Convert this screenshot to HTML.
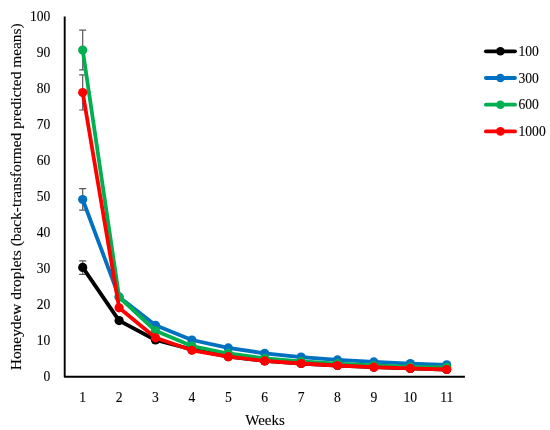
<!DOCTYPE html>
<html><head><meta charset="utf-8"><title>Honeydew droplets</title>
<style>
html,body{margin:0;padding:0;background:#fff;}
body{width:550px;height:430px;overflow:hidden;}
svg{display:block;}
text{font-family:"Liberation Serif",serif;font-size:13.6px;fill:#000;stroke:#000;stroke-width:0.1px;}
</style></head><body>
<svg width="550" height="430" viewBox="0 0 550 430">
<rect width="550" height="430" fill="#fff"/>
<g stroke="#595959" stroke-width="1.2" fill="none">
<path d="M82.7 260.9V274.4M79.2 260.9H86.2M79.2 274.4H86.2"/>
<path d="M82.7 188.6V210.1M79.2 188.6H86.2M79.2 210.1H86.2"/>
<path d="M82.7 30.1V69.8M79.2 30.1H86.2M79.2 69.8H86.2"/>
<path d="M82.7 74.9V110.0M79.2 74.9H86.2M79.2 110.0H86.2"/>
</g>
<g fill="#000000" stroke="none"><polyline points="82.7,267.4 119.1,320.6 155.5,340.0 191.9,349.3 228.3,356.7 264.7,360.9 301.1,363.5 337.5,365.5 373.9,367.2 410.3,368.4 446.7,369.5" fill="none" stroke="#000000" stroke-width="3.8" stroke-linejoin="round" stroke-linecap="round"/>
<circle cx="82.7" cy="267.4" r="4.6"/>
<circle cx="119.1" cy="320.6" r="4.6"/>
<circle cx="155.5" cy="340.0" r="4.6"/>
<circle cx="191.9" cy="349.3" r="4.6"/>
<circle cx="228.3" cy="356.7" r="4.6"/>
<circle cx="264.7" cy="360.9" r="4.6"/>
<circle cx="301.1" cy="363.5" r="4.6"/>
<circle cx="337.5" cy="365.5" r="4.6"/>
<circle cx="373.9" cy="367.2" r="4.6"/>
<circle cx="410.3" cy="368.4" r="4.6"/>
<circle cx="446.7" cy="369.5" r="4.6"/>
</g>
<g fill="#0070C0" stroke="none"><polyline points="82.7,199.5 119.1,296.9 155.5,325.3 191.9,340.0 228.3,347.9 264.7,353.3 301.1,357.1 337.5,359.9 373.9,361.9 410.3,363.6 446.7,364.8" fill="none" stroke="#0070C0" stroke-width="3.8" stroke-linejoin="round" stroke-linecap="round"/>
<circle cx="82.7" cy="199.5" r="4.6"/>
<circle cx="119.1" cy="296.9" r="4.6"/>
<circle cx="155.5" cy="325.3" r="4.6"/>
<circle cx="191.9" cy="340.0" r="4.6"/>
<circle cx="228.3" cy="347.9" r="4.6"/>
<circle cx="264.7" cy="353.3" r="4.6"/>
<circle cx="301.1" cy="357.1" r="4.6"/>
<circle cx="337.5" cy="359.9" r="4.6"/>
<circle cx="373.9" cy="361.9" r="4.6"/>
<circle cx="410.3" cy="363.6" r="4.6"/>
<circle cx="446.7" cy="364.8" r="4.6"/>
</g>
<g fill="#00B050" stroke="none"><polyline points="82.7,50.0 119.1,297.0 155.5,330.8 191.9,346.1 228.3,353.5 264.7,358.3 301.1,361.5 337.5,363.7 373.9,365.5 410.3,366.9 446.7,367.3" fill="none" stroke="#00B050" stroke-width="3.8" stroke-linejoin="round" stroke-linecap="round"/>
<circle cx="82.7" cy="50.0" r="4.6"/>
<circle cx="119.1" cy="297.0" r="4.6"/>
<circle cx="155.5" cy="330.8" r="4.6"/>
<circle cx="191.9" cy="346.1" r="4.6"/>
<circle cx="228.3" cy="353.5" r="4.6"/>
<circle cx="264.7" cy="358.3" r="4.6"/>
<circle cx="301.1" cy="361.5" r="4.6"/>
<circle cx="337.5" cy="363.7" r="4.6"/>
<circle cx="373.9" cy="365.5" r="4.6"/>
<circle cx="410.3" cy="366.9" r="4.6"/>
<circle cx="446.7" cy="367.3" r="4.6"/>
</g>
<g fill="#FF0000" stroke="none"><polyline points="82.7,92.5 119.1,307.8 155.5,337.8 191.9,350.3 228.3,356.7 264.7,360.9 301.1,363.5 337.5,365.5 373.9,367.2 410.3,368.4 446.7,369.5" fill="none" stroke="#FF0000" stroke-width="3.8" stroke-linejoin="round" stroke-linecap="round"/>
<circle cx="82.7" cy="92.5" r="4.6"/>
<circle cx="119.1" cy="307.8" r="4.6"/>
<circle cx="155.5" cy="337.8" r="4.6"/>
<circle cx="191.9" cy="350.3" r="4.6"/>
<circle cx="228.3" cy="356.7" r="4.6"/>
<circle cx="264.7" cy="360.9" r="4.6"/>
<circle cx="301.1" cy="363.5" r="4.6"/>
<circle cx="337.5" cy="365.5" r="4.6"/>
<circle cx="373.9" cy="367.2" r="4.6"/>
<circle cx="410.3" cy="368.4" r="4.6"/>
<circle cx="446.7" cy="369.5" r="4.6"/>
</g>
<path d="M64.7 16.6V376.7H464.9" stroke="#000" stroke-width="1.9" fill="none" stroke-linejoin="round"/>
<g text-anchor="end">
<text x="50.3" y="381.1">0</text>
<text x="50.3" y="345.1">10</text>
<text x="50.3" y="309.1">20</text>
<text x="50.3" y="273.0">30</text>
<text x="50.3" y="237.0">40</text>
<text x="50.3" y="201.0">50</text>
<text x="50.3" y="165.0">60</text>
<text x="50.3" y="129.0">70</text>
<text x="50.3" y="92.9">80</text>
<text x="50.3" y="56.9">90</text>
<text x="50.3" y="20.9">100</text>
</g>
<g text-anchor="middle">
<text x="82.7" y="401.7">1</text>
<text x="119.1" y="401.7">2</text>
<text x="155.5" y="401.7">3</text>
<text x="191.9" y="401.7">4</text>
<text x="228.3" y="401.7">5</text>
<text x="264.7" y="401.7">6</text>
<text x="301.1" y="401.7">7</text>
<text x="337.5" y="401.7">8</text>
<text x="373.9" y="401.7">9</text>
<text x="410.3" y="401.7">10</text>
<text x="446.7" y="401.7">11</text>
<text x="265" y="424.6" textLength="39.6" lengthAdjust="spacingAndGlyphs">Weeks</text>
<text transform="translate(20.8 196.8) rotate(-90)" x="0" y="0" textLength="346.8" lengthAdjust="spacingAndGlyphs">Honeydew droplets (back-transformed predicted means)</text>
</g>
<path d="M485.9 51.3H515" stroke="#000000" stroke-width="3.8" stroke-linecap="round"/><circle cx="500.4" cy="51.3" r="4.3" fill="#000000"/>
<text x="518.5" y="55.8">100</text>
<path d="M485.9 78H515" stroke="#0070C0" stroke-width="3.8" stroke-linecap="round"/><circle cx="500.4" cy="78" r="4.3" fill="#0070C0"/>
<text x="518.5" y="82.5">300</text>
<path d="M485.9 104.7H515" stroke="#00B050" stroke-width="3.8" stroke-linecap="round"/><circle cx="500.4" cy="104.7" r="4.3" fill="#00B050"/>
<text x="518.5" y="109.2">600</text>
<path d="M485.9 131.4H515" stroke="#FF0000" stroke-width="3.8" stroke-linecap="round"/><circle cx="500.4" cy="131.4" r="4.3" fill="#FF0000"/>
<text x="518.5" y="135.9">1000</text>
</svg></body></html>
